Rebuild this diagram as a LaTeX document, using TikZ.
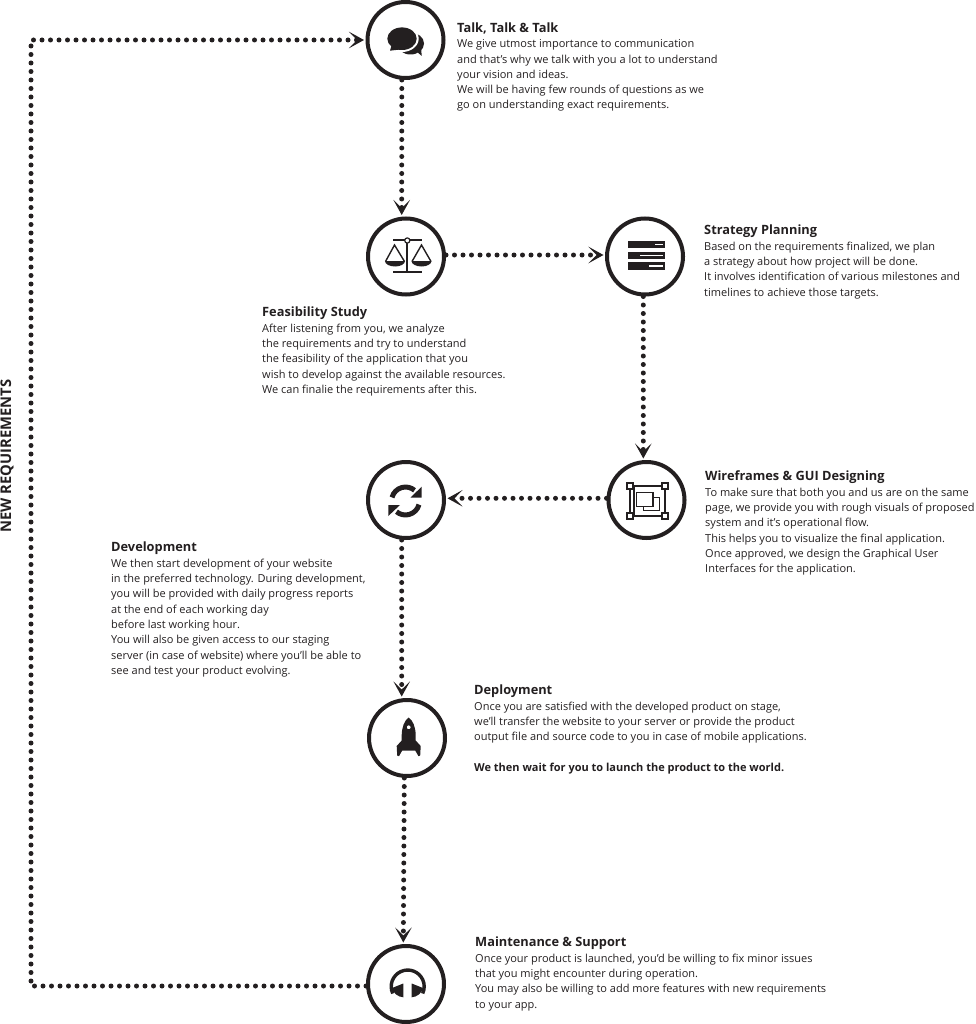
\documentclass[tikz,border=0pt]{standalone}
\usepackage{fontspec}
\setmainfont{Open Sans}
\usetikzlibrary{arrows.meta}
\definecolor{ink}{HTML}{231F20}
\tikzset{
  x=1pt,y=-1pt,
  stage/.style={circle,draw=ink,line width=4pt,minimum size=76pt,inner sep=0pt,outer sep=2pt},
  dotline/.style={draw=ink,line width=5pt,line cap=round,dash pattern=on 0pt off 8.5pt},
  chev/.style={dotline,shorten >=1.5pt,-{Stealth[length=15pt,width=16.5pt,inset=8pt,color=ink]}},
  info/.style={anchor=north west,inner sep=0pt,align=left,text=ink,font=\fontsize{11}{15.3}\selectfont},
  iconline/.style={draw=ink,fill=none,line width=1.8pt},
}
\newcommand{\ttl}[1]{{\fontsize{12.8}{15.3}\selectfont\bfseries #1}}
\begin{document}
\begin{tikzpicture}
\useasboundingbox (0,0) rectangle (975,1024);
% stages
\node[stage] (talk) at (405.5,40) {};
\node[stage] (feas) at (406,256.5) {};
\node[stage] (plan) at (645,256.5) {};
\node[stage] (wire) at (646.5,500) {};
\node[stage] (dev) at (406,500) {};
\node[stage] (depl) at (407,738) {};
\node[stage] (supp) at (406,984) {};
\coordinate (cornerB) at (31,986);
\coordinate (cornerT) at (31,40);
% connectors
\draw[chev] ([xshift=-3.7pt]talk.south) -- ([xshift=-4.3pt]feas.north);
\draw[chev] ([yshift=1.5pt]feas.east) -- ([yshift=1.5pt]plan.west);
\draw[chev] ([xshift=-1.7pt]plan.south) -- ([xshift=-3.2pt]wire.north);
\draw[chev] ([yshift=1.7pt]wire.west) -- ([yshift=1.7pt]dev.east);
\draw[chev] ([xshift=-4.3pt]dev.south) -- ([xshift=-5.3pt]depl.north);
\draw[chev] ([xshift=-2.7pt]depl.south) -- ([xshift=-2.7pt]supp.north);
\draw[chev] ([yshift=-2pt]supp.west) -- (cornerB) -- (cornerT) -- (talk.west);
% bubbles
\fill[ink] (410.5,43.5) ellipse (13.5 and 11);
\fill[ink] (415,50) -- (421.7,56) -- (421,46) -- cycle;
\fill[white] (402,38.7) ellipse (16.7 and 13.3);
\fill[white] (387,53.5) -- (398,50) -- (390,44) -- cycle;
\fill[ink] (402,38.7) ellipse (14.7 and 11.3);
\fill[ink] (390,50.7) -- (400,49.5) -- (392,44) -- cycle;
% scales
\draw[iconline] (393,240) -- (422,240);
\draw[iconline,line width=2.2pt] (407.3,240) -- (407.3,272);
\draw[iconline] (393,272) -- (422,272);
\draw[iconline,fill=white,line width=1.2pt] (407.3,240.5) circle (2.6);
\draw[draw=ink,line width=1.4pt,fill=none] (385.5,261.5) -- (394.5,245) -- (404.5,261.5);
\draw[draw=ink,line width=1.4pt,fill=none] (412,261.5) -- (421.5,245) -- (431,261.5);
\fill[ink] (385,261) -- (405,261) arc (0:180:10 and 5.5) -- cycle;
\fill[ink] (411.5,261) -- (431.5,261) arc (0:180:10 and 5.5) -- cycle;
% bars
\fill[ink] (627.7,240.7) rectangle (665,248.3);
\fill[ink] (627.7,251.7) rectangle (665,259.3);
\fill[ink] (627.7,262.3) rectangle (665,270);
\fill[white] (655,243.6) rectangle (662.8,245.4);
\fill[white] (640,254.6) rectangle (662.8,256.4);
\fill[white] (649,265.3) rectangle (662.8,267.1);
% wireframe
\draw[iconline] (630,486) rectangle (665,516);
\draw[iconline] (634,486) -- (634,516);
\draw[iconline] (636.5,492.5) rectangle (653,506.5);
\draw[iconline] (653,497.5) -- (659.5,497.5) -- (659.5,510.5) -- (643.5,510.5) -- (643.5,506.5);
\foreach \cx/\cy in {630/486,665/486,630/516,665/516}
  \draw[iconline,fill=white] (\cx-2.8,\cy-2.8) rectangle (\cx+2.8,\cy+2.8);
% refresh
\draw[draw=ink,line width=5pt] (392,497.4) arc (195:310:14);
\draw[draw=ink,line width=5pt] (419,504.6) arc (15:130:14);
\fill[ink] (421.7,486.7) -- (421.7,497.5) -- (410.5,497.5) -- cycle;
\fill[ink] (388.3,505) -- (400,505) -- (388.3,516) -- cycle;
% rocket
\fill[ink,even odd rule] (408.7,717.5) .. controls (413,720.5) and (415.5,727) .. (415.7,735)
  -- (415.7,740.5) -- (420.7,746) -- (420.2,755.5) -- (418.5,756.2) -- (415.2,750.5) -- (402.2,750.5)
  -- (399,756.2) -- (397.2,755.5) -- (396.7,746) -- (401.7,740.5) -- (401.7,735)
  .. controls (401.9,727) and (404.4,720.5) .. (408.7,717.5) -- cycle
  (408.7,727.3) circle (2);
% headphones
\draw[draw=ink,line width=3.4pt] (392.75,993.5) arc (155:385:16.5);
\fill[ink] (403.3,983.5) -- (403.3,997.3) .. controls (398,997) and (393,993) .. (392,988) -- cycle;
\fill[ink] (411.7,983.5) -- (411.7,997.3) .. controls (417,997) and (422,993) .. (423,988) -- cycle;
% texts
\node[info] (t1) at (457,22.5) {\ttl{Talk, Talk \& Talk}\\We give utmost importance to communication\\and that’s why we talk with you a lot to understand\\your vision and ideas.\\We will be having few rounds of questions as we\\go on understanding exact requirements.};
\node[info] (t2) at (704,225) {\ttl{Strategy Planning}\\Based on the requirements finalized, we plan\\a strategy about how project will be done.\\It involves identification of various milestones and\\timelines to achieve those targets.};
\node[info] (t3) at (262,307) {\ttl{Feasibility Study}\\After listening from you, we analyze\\the requirements and try to understand\\the feasibility of the application that you\\wish to develop against the available resources.\\We can finalie the requirements after this.};
\node[info] (t4) at (705,471) {\ttl{Wireframes \& GUI Designing}\\To make sure that both you and us are on the same\\page, we provide you with rough visuals of proposed\\system and it’s operational flow.\\This helps you to visualize the final application.\\Once approved, we design the Graphical User\\Interfaces for the application.};
\node[info] (t5) at (111,542) {\ttl{Development}\\We then start development of your website\\in the preferred technology. During development,\\you will be provided with daily progress reports\\at the end of each working day\\before last working hour.\\You will also be given access to our staging\\server (in case of website) where you’ll be able to\\see and test your product evolving.};
\node[info] (t6) at (474,685) {\ttl{Deployment}\\Once you are satisfied with the developed product on stage,\\we’ll transfer the website to your server or provide the product\\output file and source code to you in case of mobile applications.\\\phantom{X}\\\textbf{We then wait for you to launch the product to the world.}};
\node[info] (t7) at (475,937) {\ttl{Maintenance \& Support}\\Once your product is launched, you’d be willing to fix minor issues\\that you might encounter during operation.\\You may also be willing to add more features with new requirements\\to your app.};
\node[rotate=90,text=ink,font=\fontsize{14.7}{15}\selectfont\bfseries] (nr) at (7,456) {NEW REQUIREMENTS};
\end{tikzpicture}
\end{document}
